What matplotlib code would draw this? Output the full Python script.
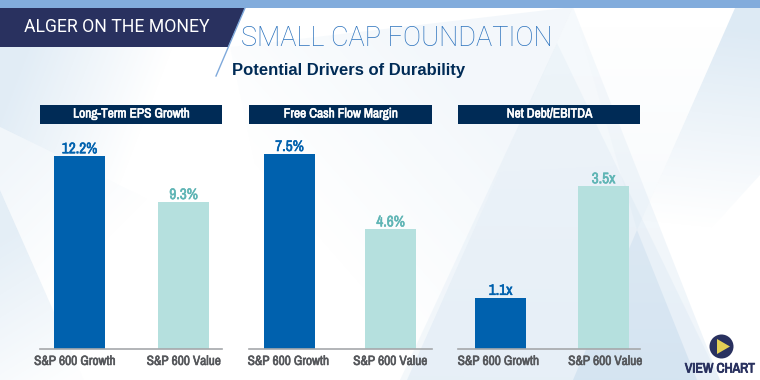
import matplotlib
matplotlib.use("Agg")
import logging
logging.getLogger("matplotlib.font_manager").setLevel(logging.ERROR)
import numpy as np
import matplotlib.pyplot as plt
import matplotlib.patheffects as pe
from matplotlib.colors import to_rgb
from matplotlib.patches import Polygon, Rectangle, Circle
from matplotlib.transforms import Affine2D

categories = ["S&P 600 Growth", "S&P 600 Value"]
panel_titles = ["Long-Term EPS Growth", "Free Cash Flow Margin", "Net Debt/EBITDA"]
eps_growth = [12.2, 9.3]
fcf_margin = [7.5, 4.6]
net_debt = [1.1, 3.5]
eps_labels = ["12.2%", "9.3%"]
fcf_labels = ["7.5%", "4.6%"]
debt_labels = ["1.1x", "3.5x"]

W, H = 760, 380
NAVY = "#002B56"; BLUE = "#0061AE"; TEAL = "#B5E0DE"; TEALT = "#5FB5B5"
GREY = "#55575B"; INDIGO = "#29315F"
NARROW = ["Archivo Narrow", "Roboto Condensed", "Liberation Sans Narrow", "Roboto", "DejaVu Sans"]
LIGHT = ["Roboto", "DejaVu Sans"]
BOLD = ["Liberation Sans", "DejaVu Sans"]

def heavy(color, w=0.4):
    return [pe.withStroke(linewidth=w, foreground=color)]

fig = plt.figure(figsize=(W/100, H/100), dpi=100, facecolor="white")
bg = fig.add_axes([0, 0, 1, 1], zorder=0)
bg.set_xlim(0, W); bg.set_ylim(H, 0); bg.axis("off")

def grad_poly(pts, color, p0, p1, a0, a1):
    """Polygon filled with an alpha ramp running from pixel p0 to pixel p1."""
    xx, yy = np.meshgrid(np.arange(W) + .5, np.arange(H) + .5)
    d = np.array(p1, float) - np.array(p0, float)
    t = np.clip(((xx - p0[0]) * d[0] + (yy - p0[1]) * d[1]) / (d @ d), 0, 1)
    img = np.zeros((H, W, 4))
    img[..., :3] = to_rgb(color)
    img[..., 3] = a0 + (a1 - a0) * t
    im = bg.imshow(img, extent=(0, W, H, 0), interpolation="bilinear", aspect="auto")
    patch = Polygon(pts, closed=True, fc="none", ec="none")
    bg.add_patch(patch)
    im.set_clip_path(patch)

C = "#BCD5EA"
grad_poly([(35,47),(240,47),(150,200),(0,127),(0,47)], C, (20,60), (150,110), .45, 0)
grad_poly([(0,190),(84,380),(0,380)], C, (0,240), (80,370), .40, .03)
grad_poly([(0,127),(150,200),(130,380),(84,380),(0,190)], C, (0,170), (90,260), .20, 0)
grad_poly([(230,47),(573,7),(407,380),(300,380)], C, (440,60), (280,200), .18, 0)
grad_poly([(573,7),(720,380),(407,380)], C, (573,60), (570,380), .14, .24)
grad_poly([(557,43),(720,380),(400,380)], C, (557,60), (570,300), .14, .16)
grad_poly([(735,8),(760,8),(760,175),(573,380),(637,230)], C, (740,30), (720,230), .50, 0)
grad_poly([(637,230),(697,380),(573,380)], C, (637,240), (637,380), .30, .42)
grad_poly([(573,8),(735,8),(637,230)], C, (650,20), (650,200), .0, .10)

bg.set_xlim(0, W); bg.set_ylim(H, 0)

bg.add_patch(Rectangle((0, 0), W, 8, fc="#82ACDC", ec="none"))
bg.add_patch(Polygon([(0,8),(245,8),(228,47),(0,47)], closed=True, fc=INDIGO, ec="none"))
bg.plot([245,216],[8,76], color="#7FA9DB", lw=1)
bg.text(24, 27, "ALGER ON THE MONEY", color="white", fontsize=12.7, family=LIGHT, weight="normal", va="center", ha="left")
bg.text(241, 38.5, "SMALL CAP FOUNDATION", color="#2B72BD", fontsize=19.5, family=LIGHT, weight="light", va="center", ha="left")
bg.text(232, 70, "Potential Drivers of Durability", color=NAVY, fontsize=12, family=BOLD, weight="bold", va="center", ha="left")

# data series, label text, title, axes span, bar centres, px per unit, growth/value label centres
panels = [
    (eps_growth, eps_labels, panel_titles[0], (40, 222), (79.5, 183.5), 15.8, (74.5, 183.5)),
    (fcf_margin, fcf_labels, panel_titles[1], (249, 432), (289.5, 390.5), 26.0, (288, 390)),
    (net_debt, debt_labels, panel_titles[2], (458, 640), (500.5, 603.5), 46.5, (498, 605)),
]
base_y = 349
top_y = 125
for vals, labs, title, (x0, x1), (c0, c1), ppu, (l0, l1) in panels:
    ax = fig.add_axes([x0/W, 1-base_y/H, (x1-x0)/W, (base_y-top_y)/H], zorder=2)
    ax.patch.set_alpha(0)
    sp = c1 - c0
    ax.set_xlim((x0-c0)/sp, 1+(x1-c1)/sp)
    ax.set_ylim(0, (base_y-top_y)/ppu)
    ax.bar([0, 1], vals, width=51/sp, color=[BLUE, TEAL])
    for s in ("top","left","right"):
        ax.spines[s].set_visible(False)
    ax.spines["bottom"].set_color("#A6A8AB"); ax.spines["bottom"].set_linewidth(1.2)
    ax.set_yticks([])
    ax.set_xticks([0, 1], categories, family=NARROW, fontsize=9.6, color=GREY)
    ax.tick_params(axis="x", length=0, pad=5)
    for lab, off in zip(ax.get_xticklabels(), ((l0-c0), (l1-c1))):
        lab.set_transform(lab.get_transform() + Affine2D().translate(off, 0))
        lab.set_path_effects(heavy(GREY))
    ax.text(0, vals[0], labs[0], color=BLUE, ha="center", va="bottom", family=NARROW, fontsize=11, path_effects=heavy(BLUE))
    ax.text(1, vals[1], labs[1], color=TEALT, ha="center", va="bottom", family=NARROW, fontsize=11, path_effects=heavy(TEALT))
    bg.add_patch(Rectangle((x0, 105), x1-x0, 19, fc=NAVY, ec="none"))
    bg.text((x0+x1)/2, 114, title, color="white", ha="center", va="center", family=NARROW, fontsize=9.6, path_effects=heavy("white"))

bg.add_patch(Circle((721.5, 346.5), 12, fc=INDIGO, ec="none"))
bg.add_patch(Polygon([(717,339),(717,354),(730,346.5)], closed=True, fc="#E3CF55", ec="none"))
bg.text(720, 369, "VIEW CHART", color=INDIGO, ha="center", va="center", family=NARROW, fontsize=9.8, path_effects=heavy(INDIGO, .6))

fig.savefig("out.png", dpi=100)
